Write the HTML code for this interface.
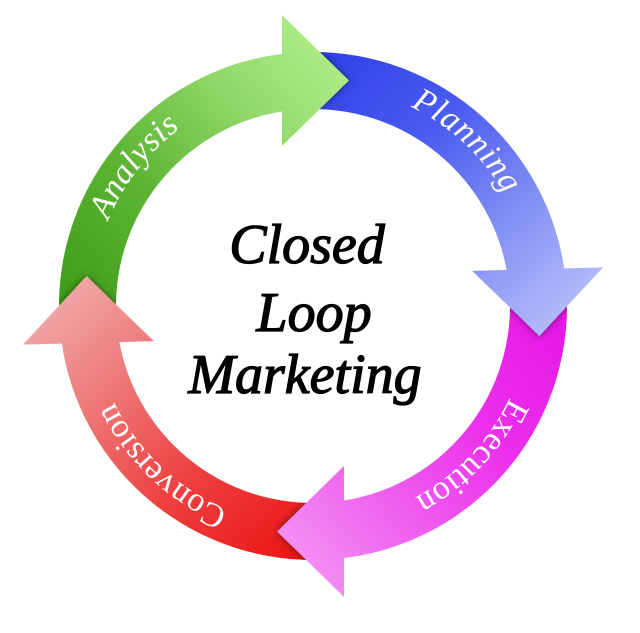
<!DOCTYPE html>
<html>
<head>
<meta charset="utf-8">
<style>
  html, body { margin: 0; padding: 0; background: #ffffff; }
  svg { display: block; }
</style>
</head>
<body>
<svg xmlns="http://www.w3.org/2000/svg" xmlns:xlink="http://www.w3.org/1999/xlink" width="640" height="633" viewBox="0 0 640 633">
  <defs>
    <path id="body" d="M59.15 314.86 A254 254 0 0 1 286.45 53.39 L292.41 110.08 A197 197 0 0 0 116.12 312.88 Z"/>
    <path id="head" d="M282 15 L349 80.5 L282 146 Z"/>

    <linearGradient id="gG" gradientUnits="userSpaceOnUse" x1="60" y1="320" x2="345" y2="70">
      <stop offset="0" stop-color="#3d9a16"/>
      <stop offset="0.4" stop-color="#5db533"/>
      <stop offset="0.75" stop-color="#93da6d"/>
      <stop offset="1" stop-color="#aeec86"/>
    </linearGradient>
    <linearGradient id="gB" gradientUnits="userSpaceOnUse" x1="60" y1="320" x2="345" y2="70">
      <stop offset="0" stop-color="#2c3ce6"/>
      <stop offset="0.4" stop-color="#4a5cf0"/>
      <stop offset="0.75" stop-color="#8a96f4"/>
      <stop offset="1" stop-color="#b4bcfa"/>
    </linearGradient>
    <linearGradient id="gM" gradientUnits="userSpaceOnUse" x1="60" y1="320" x2="345" y2="70">
      <stop offset="0" stop-color="#e414e4"/>
      <stop offset="0.4" stop-color="#ec30ec"/>
      <stop offset="0.75" stop-color="#ee66ee"/>
      <stop offset="1" stop-color="#f290f2"/>
    </linearGradient>
    <linearGradient id="gR" gradientUnits="userSpaceOnUse" x1="60" y1="320" x2="345" y2="70">
      <stop offset="0" stop-color="#ea0e0e"/>
      <stop offset="0.4" stop-color="#ee3e3e"/>
      <stop offset="0.75" stop-color="#ee7c7c"/>
      <stop offset="1" stop-color="#f0a6a6"/>
    </linearGradient>

    <filter id="blur" x="-30%" y="-30%" width="160%" height="160%">
      <feGaussianBlur stdDeviation="4"/>
    </filter>

    <clipPath id="cpG"><use xlink:href="#body" href="#body"/></clipPath>
    <clipPath id="cpB"><use xlink:href="#body" href="#body" transform="rotate(88.5 313 306)"/></clipPath>
    <clipPath id="cpM"><use xlink:href="#body" href="#body" transform="rotate(180 313 306)"/></clipPath>
    <clipPath id="cpR"><use xlink:href="#body" href="#body" transform="rotate(268.5 313 306)"/></clipPath>

    <path id="tA" d="M95.85 352.16 A222 222 0 0 1 305.25 84.14"/>
    <path id="tP" d="M285.94 85.65 A222 222 0 0 1 534.70 317.62"/>
    <path id="tE" d="M528.60 281.44 A217 217 0 0 1 299.75 522.59"/>
    <path id="tC" d="M338.02 525.58 A221 221 0 0 1 92.41 292.51"/>
  </defs>

  <rect width="640" height="633" fill="#ffffff"/>

  <!-- bodies -->
  <use xlink:href="#body" href="#body" fill="url(#gG)"/>
  <use xlink:href="#body" href="#body" fill="url(#gB)" transform="rotate(88.5 313 306)"/>
  <use xlink:href="#body" href="#body" fill="url(#gM)" transform="rotate(180 313 306)"/>
  <use xlink:href="#body" href="#body" fill="url(#gR)" transform="rotate(268.5 313 306)"/>

  <!-- shadows of heads on the following tails -->
  <g clip-path="url(#cpB)">
    <use xlink:href="#head" href="#head" fill="#000" opacity="0.5" filter="url(#blur)"/>
  </g>
  <g clip-path="url(#cpM)">
    <use xlink:href="#head" href="#head" fill="#000" opacity="0.5" filter="url(#blur)" transform="rotate(88.5 313 306)"/>
  </g>
  <g clip-path="url(#cpR)">
    <use xlink:href="#head" href="#head" fill="#000" opacity="0.5" filter="url(#blur)" transform="rotate(180 313 306)"/>
  </g>
  <g clip-path="url(#cpG)">
    <use xlink:href="#head" href="#head" fill="#000" opacity="0.5" filter="url(#blur)" transform="rotate(268.5 313 306)"/>
  </g>

  <!-- heads -->
  <use xlink:href="#head" href="#head" fill="url(#gG)"/>
  <use xlink:href="#head" href="#head" fill="url(#gB)" transform="rotate(88.5 313 306)"/>
  <use xlink:href="#head" href="#head" fill="url(#gM)" transform="rotate(180 313 306)"/>
  <use xlink:href="#head" href="#head" fill="url(#gR)" transform="rotate(268.5 313 306)"/>

  <!-- arc labels -->
  <g fill="#ffffff" font-family="'Liberation Serif', serif" font-size="34">
    <text font-style="italic" letter-spacing="0.4" text-anchor="middle">
      <textPath xlink:href="#tA" href="#tA" startOffset="50%">Analysis</textPath>
    </text>
    <text font-style="italic" letter-spacing="0.8" text-anchor="middle">
      <textPath xlink:href="#tP" href="#tP" startOffset="50%">Planning</textPath>
    </text>
    <text letter-spacing="0.3" text-anchor="middle">
      <textPath xlink:href="#tE" href="#tE" startOffset="50%">Execution</textPath>
    </text>
    <text letter-spacing="0.4" text-anchor="middle">
      <textPath xlink:href="#tC" href="#tC" startOffset="50%">Conversion</textPath>
    </text>
  </g>

  <!-- center title -->
  <g font-family="'Liberation Serif', serif" font-style="italic" font-size="56" fill="#000" stroke="#000" stroke-width="1.3" text-anchor="middle">
    <text x="307" y="263">Closed</text>
    <text x="314" y="331">Loop</text>
    <text x="305" y="393">Marketing</text>
  </g>
</svg>
</body>
</html>
